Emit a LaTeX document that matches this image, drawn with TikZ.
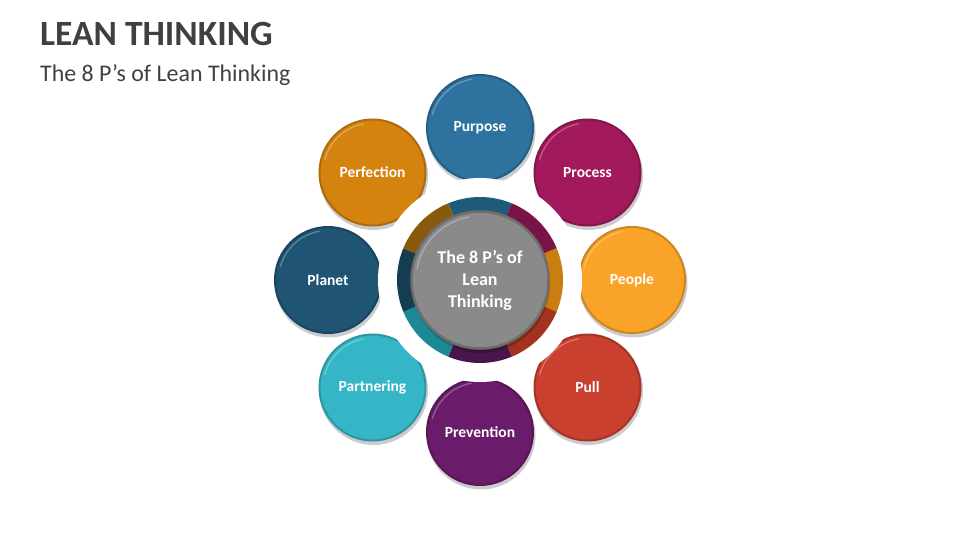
\documentclass[tikz,border=0pt]{standalone}
\usepackage{fontspec}
\setmainfont{Carlito}
\definecolor{cPurpose}{HTML}{2E73A0}
\definecolor{cProcess}{HTML}{A2195C}
\definecolor{cPeople}{HTML}{F9A328}
\definecolor{cPull}{HTML}{C9402F}
\definecolor{cPrevention}{HTML}{6A1C6A}
\definecolor{cPartnering}{HTML}{35B6C6}
\definecolor{cPlanet}{HTML}{1F5573}
\definecolor{cPerfection}{HTML}{D4830F}
\definecolor{sPurpose}{HTML}{1E5A7A}
\definecolor{sProcess}{HTML}{7A1447}
\definecolor{sPeople}{HTML}{C97F10}
\definecolor{sPull}{HTML}{A3321F}
\definecolor{sPrevention}{HTML}{4A154A}
\definecolor{sPartnering}{HTML}{1E8996}
\definecolor{sPlanet}{HTML}{153D52}
\definecolor{sPerfection}{HTML}{8A5A0C}
\definecolor{titlegrey}{HTML}{404040}
\definecolor{coregrey}{HTML}{8A8A8A}
\tikzset{
  pcircle/.style={circle, minimum size=106pt, inner sep=0pt, line width=2pt,
    text=white, font=\bfseries\fontsize{15.5}{18}\selectfont},
  corecircle/.style={circle, minimum size=137pt, inner sep=0pt, line width=2.5pt,
    fill=coregrey, draw=coregrey!80!black, text=white, align=center,
    font=\bfseries\fontsize{18}{22}\selectfont},
  shadowfill/.style={fill=black, opacity=0.2},
  highlight/.style={white, opacity=0.3, line width=1.2pt},
  titletext/.style={anchor=base west, inner sep=0pt, text=titlegrey}
}
\begin{document}
\begin{tikzpicture}[x=1pt, y=-1pt]
\useasboundingbox (0,0) rectangle (960,540);
\node[titletext, font=\bfseries\fontsize{35.5}{40}\selectfont] (title) at (40,46) {LEAN THINKING};
\node[titletext, font=\fontsize{23.9}{28}\selectfont] (subtitle) at (40,82) {The 8 P’s of Lean Thinking};
\coordinate (c) at (480,280);
% outer circles
\foreach \n/\x/\y/\col/\t in {purpose/480/128/Purpose/Purpose, process/587.5/172.5/Process/Process,
  people/632/280/People/People, pull/587.5/387.5/Pull/Pull, prevention/480/432/Prevention/Prevention,
  partnering/372.5/387.5/Partnering/Partnering, planet/328/280/Planet/Planet,
  perfection/372.5/172.5/Perfection/Perfection}{
  \fill[shadowfill] (\x+1,\y+3) circle[radius=54.5];
  \node[pcircle, fill=c\col, draw=c\col!82!black] (\n) at (\x,\y) {\t};
  \draw[highlight] (\n.center) ++(-100:49.5) arc[start angle=-100, end angle=-165, radius=49.5];
}
% white disk around the centre
\fill[white] (c) circle[radius=102];
% ring segments
\foreach \a/\col in {90/Purpose, 45/Process, 0/People, -45/Pull, -90/Prevention,
  -135/Partnering, 180/Planet, 135/Perfection}{
  \fill[s\col] (c) -- ++(-\a-22.5:83) arc[start angle=-\a-22.5, end angle=-\a+22.5, radius=83] -- cycle;
}
% centre
\fill[shadowfill] (481,284) circle[radius=69];
\node[corecircle] (core) at (c) {The 8 P’s of\\Lean\\Thinking};
\draw[highlight] (core.center) ++(-100:64) arc[start angle=-100, end angle=-170, radius=64];
\end{tikzpicture}
\end{document}
